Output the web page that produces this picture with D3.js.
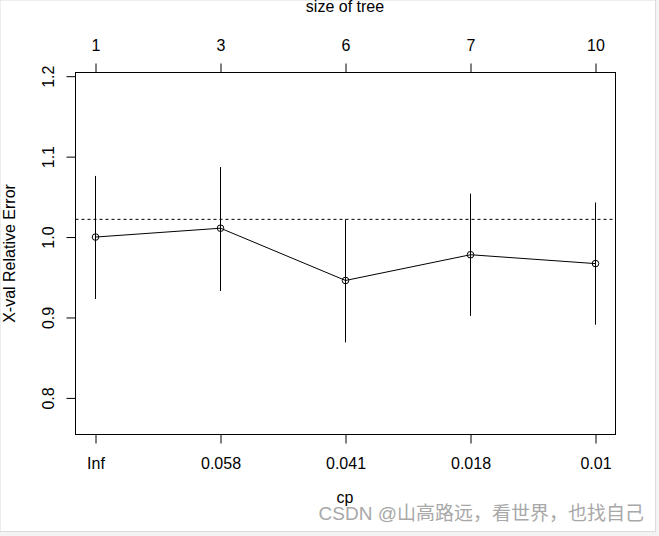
<!DOCTYPE html>
<html>
<head>
<meta charset="utf-8">
<script src="https://cdn.jsdelivr.net/npm/d3@7"></script>
<style>
html,body{margin:0;padding:0;background:#fff;}
svg{display:block;}
text{font-family:"Liberation Sans",Arial,sans-serif;}
</style>
</head>
<body>
<svg id="chart" width="659" height="536"></svg>
<script>
const cpLabels = ["Inf", "0.058", "0.041", "0.018", "0.01"];
const treeSizes = ["1", "3", "6", "7", "10"];
const xerror = [1.000, 1.011, 0.946, 0.978, 0.967];
const errLow = [0.923, 0.933, 0.869, 0.902, 0.891];
const errHigh = [1.076, 1.087, 1.022, 1.054, 1.043];
const yTicks = [0.8, 0.9, 1.0, 1.1, 1.2];
const refLine = 1.022;

const svg = d3.select("#chart");
const L = 75.5, R = 615.5, T = 72.5, B = 434.5;

// screenshot frame
svg.append("rect").attr("x",0).attr("y",0).attr("width",659).attr("height",536).attr("fill","#f3f3f3");
svg.append("rect").attr("x",0).attr("y",0).attr("width",655.5).attr("height",531.5).attr("fill","#fff")
  .attr("stroke","#dcdcdc").attr("stroke-width",1);

const idx = d3.range(cpLabels.length);
const x = d3.scaleLinear().domain([0.84, 5.16]).range([L, R]);
const y = d3.scaleLinear().domain([0.7545, 1.2046]).range([B, T]);

// box
svg.append("rect").attr("x",L).attr("y",T).attr("width",R-L).attr("height",B-T)
  .attr("fill","none").attr("stroke","#000").attr("stroke-width",1);

// bottom axis
const xb = d3.axisBottom(x).tickValues(idx.map(i=>i+1)).tickFormat((d,i)=>cpLabels[i]).tickSizeOuter(0).tickSize(9).tickPadding(14);
const gb = svg.append("g").attr("transform",`translate(0,${B})`).call(xb);
gb.select(".domain").remove();
gb.selectAll("text").attr("font-size",16).attr("fill","#000").attr("font-family","Liberation Sans, Arial, sans-serif");

// top axis
const xt = d3.axisTop(x).tickValues(idx.map(i=>i+1)).tickFormat((d,i)=>treeSizes[i]).tickSizeOuter(0).tickSize(9).tickPadding(13);
const gt = svg.append("g").attr("transform",`translate(0,${T})`).call(xt);
gt.select(".domain").remove();
gt.selectAll("text").attr("font-size",16).attr("fill","#000").attr("font-family","Liberation Sans, Arial, sans-serif");

// left axis
const yl = d3.axisLeft(y).tickValues(yTicks).tickFormat(d3.format(".1f")).tickSizeOuter(0).tickSize(9);
const gl = svg.append("g").attr("transform",`translate(${L},0)`).call(yl);
gl.select(".domain").remove();
gl.selectAll("text")
  .attr("font-size",16).attr("fill","#000").attr("font-family","Liberation Sans, Arial, sans-serif")
  .attr("x",null).attr("dy",null)
  .attr("text-anchor","middle")
  .attr("transform","translate(-22,0) rotate(-90)");

// reference line
svg.append("line").attr("x1",L).attr("x2",R).attr("y1",y(refLine)).attr("y2",y(refLine))
  .attr("stroke","#000").attr("stroke-width",1).attr("stroke-dasharray","3,3");

// error bars
svg.append("g").selectAll("line").data(idx).join("line")
  .attr("x1",i=>x(i+1)).attr("x2",i=>x(i+1))
  .attr("y1",i=>y(errLow[i])).attr("y2",i=>y(errHigh[i]))
  .attr("stroke","#000").attr("stroke-width",1);

// line
const line = d3.line().x(i=>x(i+1)).y(i=>y(xerror[i]));
svg.append("path").datum(idx).attr("d",line).attr("fill","none").attr("stroke","#000").attr("stroke-width",1);

// points
svg.append("g").selectAll("circle").data(idx).join("circle")
  .attr("cx",i=>x(i+1)).attr("cy",i=>y(xerror[i])).attr("r",3.3)
  .attr("fill","none").attr("stroke","#000").attr("stroke-width",1);

// titles
svg.append("text").attr("x",345).attr("y",12).attr("text-anchor","middle").attr("font-size",16).attr("fill","#000").text("size of tree");
svg.append("text").attr("x",345).attr("y",503).attr("text-anchor","middle").attr("font-size",16).attr("fill","#000").text("cp");
svg.append("text").attr("transform",`translate(15,${(T+B)/2}) rotate(-90)`).attr("text-anchor","middle").attr("font-size",16).attr("fill","#000").text("X-val Relative Error");

// watermark
svg.append("text").attr("x",644).attr("y",520).attr("text-anchor","end").attr("font-size",19)
  .attr("fill","#a8a8a8").style("font-family","'Liberation Sans','Noto Sans CJK SC',sans-serif")
  .text("CSDN @山高路远，看世界，也找自己");
</script>
</body>
</html>
